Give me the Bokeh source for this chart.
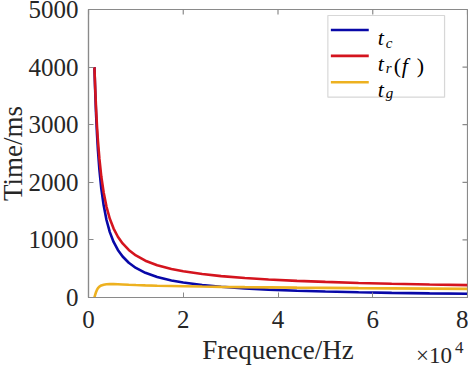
import math

from bokeh.plotting import figure
from bokeh.models import Range1d, FixedTicker, BoxAnnotation, Div
from bokeh.core.properties import value
from bokeh.layouts import column
from bokeh.embed import file_html
from bokeh.resources import INLINE

# Frequency samples (Hz) and the three timing curves (ms)
freq = [1250, 1400, 1600, 1800, 2000, 2300, 2700, 3200, 3800, 4500, 5300, 6200,
        7200, 8500, 10000, 12000, 14500, 17500, 20000, 24000, 28000, 33000,
        38000, 44000, 50000, 57000, 64000, 72000, 80000]
t_c = [4000, 3620, 3180, 2830, 2550, 2220, 1890, 1600, 1345, 1135, 965, 825,
       712, 603, 513, 428, 355, 295, 260, 217, 186, 158,
       136, 118, 104, 91, 80, 71, 64]
t_r = [4000, 3665, 3275, 2965, 2712, 2410, 2100, 1822, 1574, 1367, 1197, 1055,
       939, 825, 730, 639, 560, 495, 456, 407, 371, 338,
       312, 289, 271, 253, 238, 225, 214]
t_g = [0, 45, 95, 135, 162, 190, 210, 222, 229, 232, 232, 230,
       227, 222, 217, 211, 205, 200, 196, 190, 185, 180,
       176, 171, 167, 162, 158, 154, 150]

x_ticks = [0, 20000, 40000, 60000, 80000]
x_tick_labels = ["0", "2", "4", "6", "8"]
y_ticks = [0, 1000, 2000, 3000, 4000, 5000]

series_keys = ["c", "r", "g"]
colors = {"c": "#0808a8", "r": "#d4141e", "g": "#edb120"}

SERIF = "Liberation Serif"
GRAY = "#8a8a8a"
TEXT = "#262626"

W, H = 474, 367
SHIFT = 6                          # canvas is pushed this far past the left edge
FL, FR, FT, FB = 87, 467, 9, 298   # visible frame edges in pixels
XMAX, YMAX = 80000, 5000

p = figure(width=W, height=H, output_backend="svg", toolbar_location=None,
           x_range=Range1d(0, XMAX), y_range=Range1d(0, YMAX),
           min_border_left=FL + SHIFT, min_border_right=W - (FR - FL) - (FL + SHIFT),
           min_border_top=FT, min_border_bottom=H - FB,
           margin=(0, 0, 0, -SHIFT))
p.grid.visible = False
p.outline_line_color = GRAY
p.outline_line_width = 1.2
p.background_fill_color = "white"
p.border_fill_color = "white"


def style_axis(ax, ticks, label, standoff):
    ax.ticker = FixedTicker(ticks=ticks)
    ax.axis_line_color = GRAY
    ax.axis_line_width = 1.2
    ax.major_tick_line_color = GRAY
    ax.major_tick_in = 5
    ax.major_tick_out = 0
    ax.minor_tick_line_color = None
    ax.major_label_text_font = SERIF
    ax.major_label_text_color = TEXT
    ax.major_label_text_font_size = "25px"
    ax.axis_label = label
    ax.axis_label_text_font = SERIF
    ax.axis_label_text_font_style = "normal"
    ax.axis_label_text_font_size = "27px"
    ax.axis_label_text_color = TEXT
    ax.axis_label_text_line_height = 0.9
    ax.axis_label_standoff = standoff


xa = p.xaxis[0]
style_axis(xa, x_ticks, "Frequence/Hz", 4)
xa.major_label_overrides = {t: s for t, s in zip(x_ticks, x_tick_labels)}
xa.major_label_standoff = 13

ya = p.yaxis[0]
style_axis(ya, y_ticks, "Time/ms", -2)
ya.major_label_standoff = 10

# inward ticks along the top and right edges of the box
p.scatter(x_ticks, [YMAX] * len(x_ticks), marker="dash", size=10, angle=math.pi / 2,
          line_color=GRAY, line_width=1.2)
p.scatter([XMAX] * len(y_ticks), y_ticks, marker="dash", size=10,
          line_color=GRAY, line_width=1.2)

# curves
for key, ys in zip(series_keys, [t_c, t_r, t_g]):
    p.line(freq, ys, line_color=colors[key], line_width=2.6)


def dx(px):
    return (px - FL) / (FR - FL) * XMAX


def dy(py):
    return (FB - py) / (FB - FT) * YMAX


# legend box, sample lines and entries
p.add_layout(BoxAnnotation(left=dx(327), right=dx(444), top=dy(15), bottom=dy(97),
                           fill_color="white", fill_alpha=1.0,
                           line_color="#7a7a7a", line_width=1.2, level="underlay"))

legend_rows = [29.5, 55.5, 82]
for key, py in zip(series_keys, legend_rows):
    p.line([dx(330), dx(368)], [dy(py), dy(py)], line_color=colors[key], line_width=2.6,
           level="overlay")


def txt(strings, pxs, pys, size, style="italic"):
    p.text(x=[dx(v) for v in pxs], y=[dy(v) for v in pys], text=strings,
           text_font=value(SERIF), text_font_style=style,
           text_font_size=value(size), text_color="black",
           text_baseline="alphabetic", text_align="left", level="overlay")


txt(["t", "t", "t"], [377, 377, 377], [37, 63, 89], "22px")
txt(series_keys, [385, 385, 385], [43, 68, 93], "15px")
txt(["f"], [401], [65], "22px")
txt(["(", ")"], [393, 416], [65, 65], "22px", "normal")

# axis exponent under the right end of the x axis
exp_html = (
    '<div style="position:relative;width:59px;height:31px;overflow:hidden;'
    "font-family:'Liberation Serif';color:#262626;\">"
    '<span style="position:absolute;left:1px;top:8px;font-size:23px;line-height:1;'
    'white-space:nowrap;">\u00d710</span>'
    '<span style="position:absolute;left:40px;top:3px;font-size:17px;line-height:1;">4</span>'
    "</div>"
)
exponent = Div(text=exp_html, width=59, height=31, margin=(-31, 0, 0, 415))

layout = column(p, exponent, spacing=0)

open("out.html", "w").write(file_html(layout, INLINE))
